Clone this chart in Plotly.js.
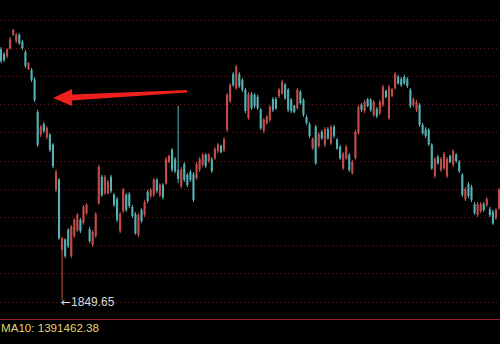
<!DOCTYPE html>
<html>
<head>
<meta charset="utf-8">
<script src="https://cdn.plot.ly/plotly-3.0.1.min.js"></script>
<style>html,body{margin:0;padding:0;background:#000;}#chart{width:500px;height:344px;}</style>
</head>
<body>
<div id="chart"></div>
<script>
// Daily candles
const openP = [2301,2292,2289,2303,2327,2316,2327,2314,2296,2265,2264,2247,2188,2147,2166,2143,2147,2129,2048,2066,
1940,1958,1976,1929,1965,1976,1994,1988,2006,1977,1949,1965,2024,2071,2042,2042,2071,2039,2031,1974,
2010,2039,2040,2017,2004,1967,2012,2003,2044,2037,2039,2066,2039,2057,2060,2098,2120,2103,2083,2055,
2094,2075,2080,2076,2069,2084,2093,2111,2100,2103,2105,2118,2127,2120,2156,2208,2256,2231,2256,2246,
2228,2177,2220,2219,2215,2192,2154,2168,2174,2211,2211,2217,2222,2237,2228,2210,2199,2195,2224,2210,
2179,2166,2123,2161,2127,2152,2129,2157,2132,2161,2138,2125,2087,2105,2111,2078,2105,2150,2201,2190,
2211,2210,2183,2193,2186,2201,2226,2177,2217,2231,2251,2247,2251,2247,2228,2201,2192,2201,2165,2157,
2156,2129,2073,2107,2084,2087,2073,2109,2093,2111,2098,2075,2031,2058,2053,2022,2003,2010,2022,2021,
2013,2008,1997,2015];
const highP = [2305,2296,2303,2323,2337,2330,2330,2318,2300,2278,2267,2251,2192,2165,2170,2163,2150,2132,2084,2069,
1963,1961,1979,1985,1997,2006,1997,2021,2024,1981,1976,2008,2093,2075,2075,2066,2075,2042,2035,2008,
2051,2042,2044,2021,2008,2006,2015,2030,2048,2051,2069,2069,2060,2060,2107,2111,2123,2107,2199,2089,
2098,2078,2084,2080,2098,2107,2114,2114,2114,2107,2125,2132,2129,2143,2222,2240,2260,2273,2260,2249,
2231,2224,2224,2222,2219,2195,2177,2183,2201,2215,2215,2231,2246,2240,2231,2213,2201,2231,2228,2213,
2183,2170,2143,2165,2152,2156,2161,2161,2165,2165,2141,2129,2116,2129,2114,2102,2156,2201,2204,2210,
2213,2213,2210,2197,2210,2237,2228,2237,2231,2260,2255,2251,2255,2251,2231,2215,2210,2204,2168,2161,
2159,2132,2107,2111,2107,2116,2107,2111,2121,2114,2102,2078,2053,2062,2057,2026,2026,2026,2026,2035,
2017,2012,2015,2051];
const lowP = [2276,2278,2285,2300,2325,2312,2309,2300,2267,2264,2242,2206,2125,2143,2150,2139,2116,2087,2044,1958,
1849.65,1925,1943,1925,1961,1972,1970,1985,2003,1952,1945,1961,2021,2035,2039,2039,2042,2017,1990,1970,
2006,2008,2015,1997,1967,1963,1988,1999,2024,2033,2035,2042,2035,2031,2057,2096,2080,2078,2060,2051,
2062,2053,2062,2026,2066,2080,2089,2087,2096,2078,2102,2114,2114,2116,2152,2204,2233,2228,2231,2224,
2186,2174,2192,2195,2192,2156,2150,2165,2170,2188,2192,2213,2219,2210,2188,2186,2186,2192,2201,2179,
2165,2141,2120,2093,2123,2138,2125,2138,2129,2141,2120,2102,2084,2102,2080,2075,2102,2147,2188,2186,
2197,2188,2179,2177,2183,2197,2213,2174,2215,2228,2237,2233,2237,2231,2195,2197,2188,2161,2147,2141,
2127,2084,2069,2093,2080,2084,2069,2096,2089,2096,2078,2035,2028,2033,2026,2003,1999,2006,2008,2017,
1999,1985,1994,2012];
const closeP = [2280,2282,2300,2319,2336,2327,2312,2303,2271,2276,2246,2210,2129,2161,2154,2159,2120,2091,2080,1961,
1961,1929,1947,1981,1994,2003,1974,2017,2021,1956,1972,2004,2089,2039,2071,2062,2046,2021,1994,2004,
2048,2012,2019,2001,1970,2003,1992,2026,2028,2048,2066,2046,2057,2035,2103,2109,2084,2082,2068,2085,
2066,2057,2066,2030,2094,2103,2111,2091,2111,2082,2121,2129,2116,2139,2219,2237,2237,2269,2235,2228,
2190,2220,2195,2199,2195,2159,2174,2179,2197,2192,2195,2228,2242,2213,2192,2190,2188,2228,2204,2183,
2168,2145,2139,2096,2148,2141,2157,2141,2161,2145,2123,2105,2112,2125,2084,2098,2152,2197,2192,2206,
2199,2192,2206,2181,2206,2233,2215,2233,2229,2256,2240,2237,2240,2235,2199,2211,2206,2165,2150,2145,
2130,2087,2103,2096,2103,2112,2103,2098,2118,2100,2082,2039,2049,2037,2030,2006,2022,2022,2012,2031,
2003,1988,2012,2048];
const dayIndex = openP.map((_, i) => i);
const lowLabel = '1849.65';
const maLabel = 'MA10: 1391462.38';

const candles = {
  type: 'candlestick',
  x: dayIndex, open: openP, high: highP, low: lowP, close: closeP,
  increasing: {line: {color: '#c8504e', width: 1}, fillcolor: '#c8504e'},
  decreasing: {line: {color: '#58b6b8', width: 1}, fillcolor: '#58b6b8'},
  whiskerwidth: 0,
  hoverinfo: 'skip',
  showlegend: false
};

const lowIdx = lowP.indexOf(Math.min(...lowP));

const layout = {
  width: 500, height: 344,
  margin: {l: 0, r: 0, t: 0, b: 25, pad: 0},
  paper_bgcolor: '#000000',
  plot_bgcolor: '#000000',
  boxgap: 0.5,
  showlegend: false,
  xaxis: {
    range: [-0.327, 163.33],
    showgrid: false, zeroline: false, showticklabels: false, ticks: '',
    showline: true, linecolor: '#9a1e1e', linewidth: 1,
    rangeslider: {visible: false}, fixedrange: true
  },
  yaxis: {
    range: [1815.45, 2389.65],
    showgrid: true, gridcolor: '#5e1818', griddash: '1px,3px', gridwidth: 1,
    tick0: 1846.05, dtick: 50.76,
    zeroline: false, showticklabels: false, ticks: '', showline: false, fixedrange: true
  },
  shapes: [{
    type: 'path', xref: 'paper', yref: 'paper',
    path: 'M 0.374,0.7179 L 0.144,0.7040 L 0.144,0.7210 L 0.106,0.6928 L 0.144,0.6677 L 0.144,0.6850 L 0.374,0.7100 Z',
    fillcolor: '#ee1f1c', line: {width: 0}
  }],
  annotations: [
    {x: lowIdx, y: lowP[lowIdx], xref: 'x', yref: 'y',
     text: "<span style='font-family:DejaVu Sans'>\u2190</span>" + lowLabel,
     showarrow: false, xanchor: 'left', yanchor: 'middle', xshift: -3, yshift: -2,
     font: {family: 'Liberation Sans, Arial, sans-serif', size: 12, color: '#dadada'}},
    {x: 0, y: -0.028, xref: 'paper', yref: 'paper', text: maLabel,
     showarrow: false, xanchor: 'left', yanchor: 'middle', xshift: -1,
     font: {family: 'Liberation Sans, Arial, sans-serif', size: 11.6, color: '#e0d470'}}
  ]
};

Plotly.newPlot('chart', [candles], layout, {displayModeBar: false, staticPlot: true});
</script>
</body>
</html>
